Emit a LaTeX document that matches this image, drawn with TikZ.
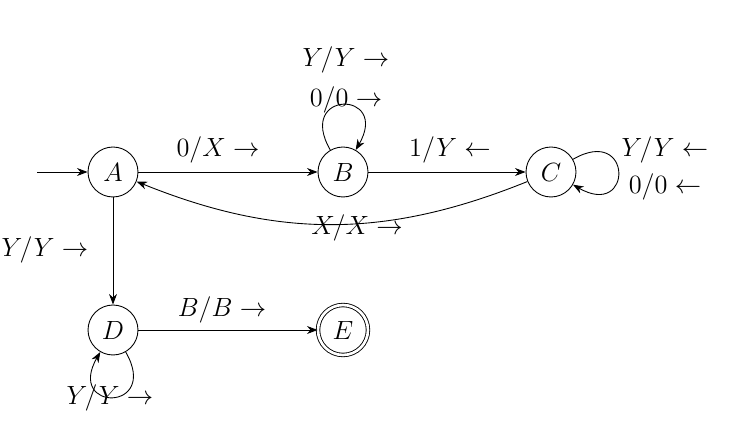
\documentclass[tikz,border=0pt]{standalone}
\usetikzlibrary{automata,arrows.meta}
\begin{document}
\begin{tikzpicture}[x=0.016cm,y=-0.016cm,
  st/.style={circle,draw,minimum size=0.8cm,inner sep=0pt,font=\large},
  acc/.style={st,double,double distance=1.2pt},
  lbl/.style={font=\large},
  >=Stealth]
\useasboundingbox (0,0) rectangle (748,426);
\node[st] (A) at (113,172) {$A$};
\node[st] (B) at (343,172) {$B$};
\node[st] (C) at (551,172) {$C$};
\node[st] (D) at (113,330) {$D$};
\node[acc] (E) at (343,330) {$E$};
\coordinate (S) at (37,172);
\draw[->] (S) -- (A);
\draw[->] (A) -- (B);
\draw[->] (B) -- (C);
\draw[->] (A) -- (D);
\draw[->] (D) -- (E);
\draw[->] (C) to[bend left=22] (A);
\draw[->] (B) to[out=120,in=60,looseness=7] (B);
\draw[->] (C) to[out=30,in=-30,looseness=7] (C);
\draw[->] (D) to[out=-60,in=-120,looseness=7] (D);
\node[lbl] (l1) at (218,150) {$0/X\rightarrow$};
\node[lbl] (l2) at (450,150) {$1/Y\leftarrow$};
\node[lbl] (l3) at (357,228) {$X/X\rightarrow$};
\node[lbl] (l4) at (45,250) {$Y/Y\rightarrow$};
\node[lbl] (l5) at (222,310) {$B/B\rightarrow$};
\node[lbl] (l6) at (110,398) {$Y/Y\rightarrow$};
\node[lbl] (l7) at (346,60) {$Y/Y\rightarrow$};
\node[lbl] (l8) at (346,100) {$0/0\rightarrow$};
\node[lbl] (l9) at (665,150) {$Y/Y\leftarrow$};
\node[lbl] (l10) at (665,187) {$0/0\leftarrow$};
\end{tikzpicture}
\end{document}
